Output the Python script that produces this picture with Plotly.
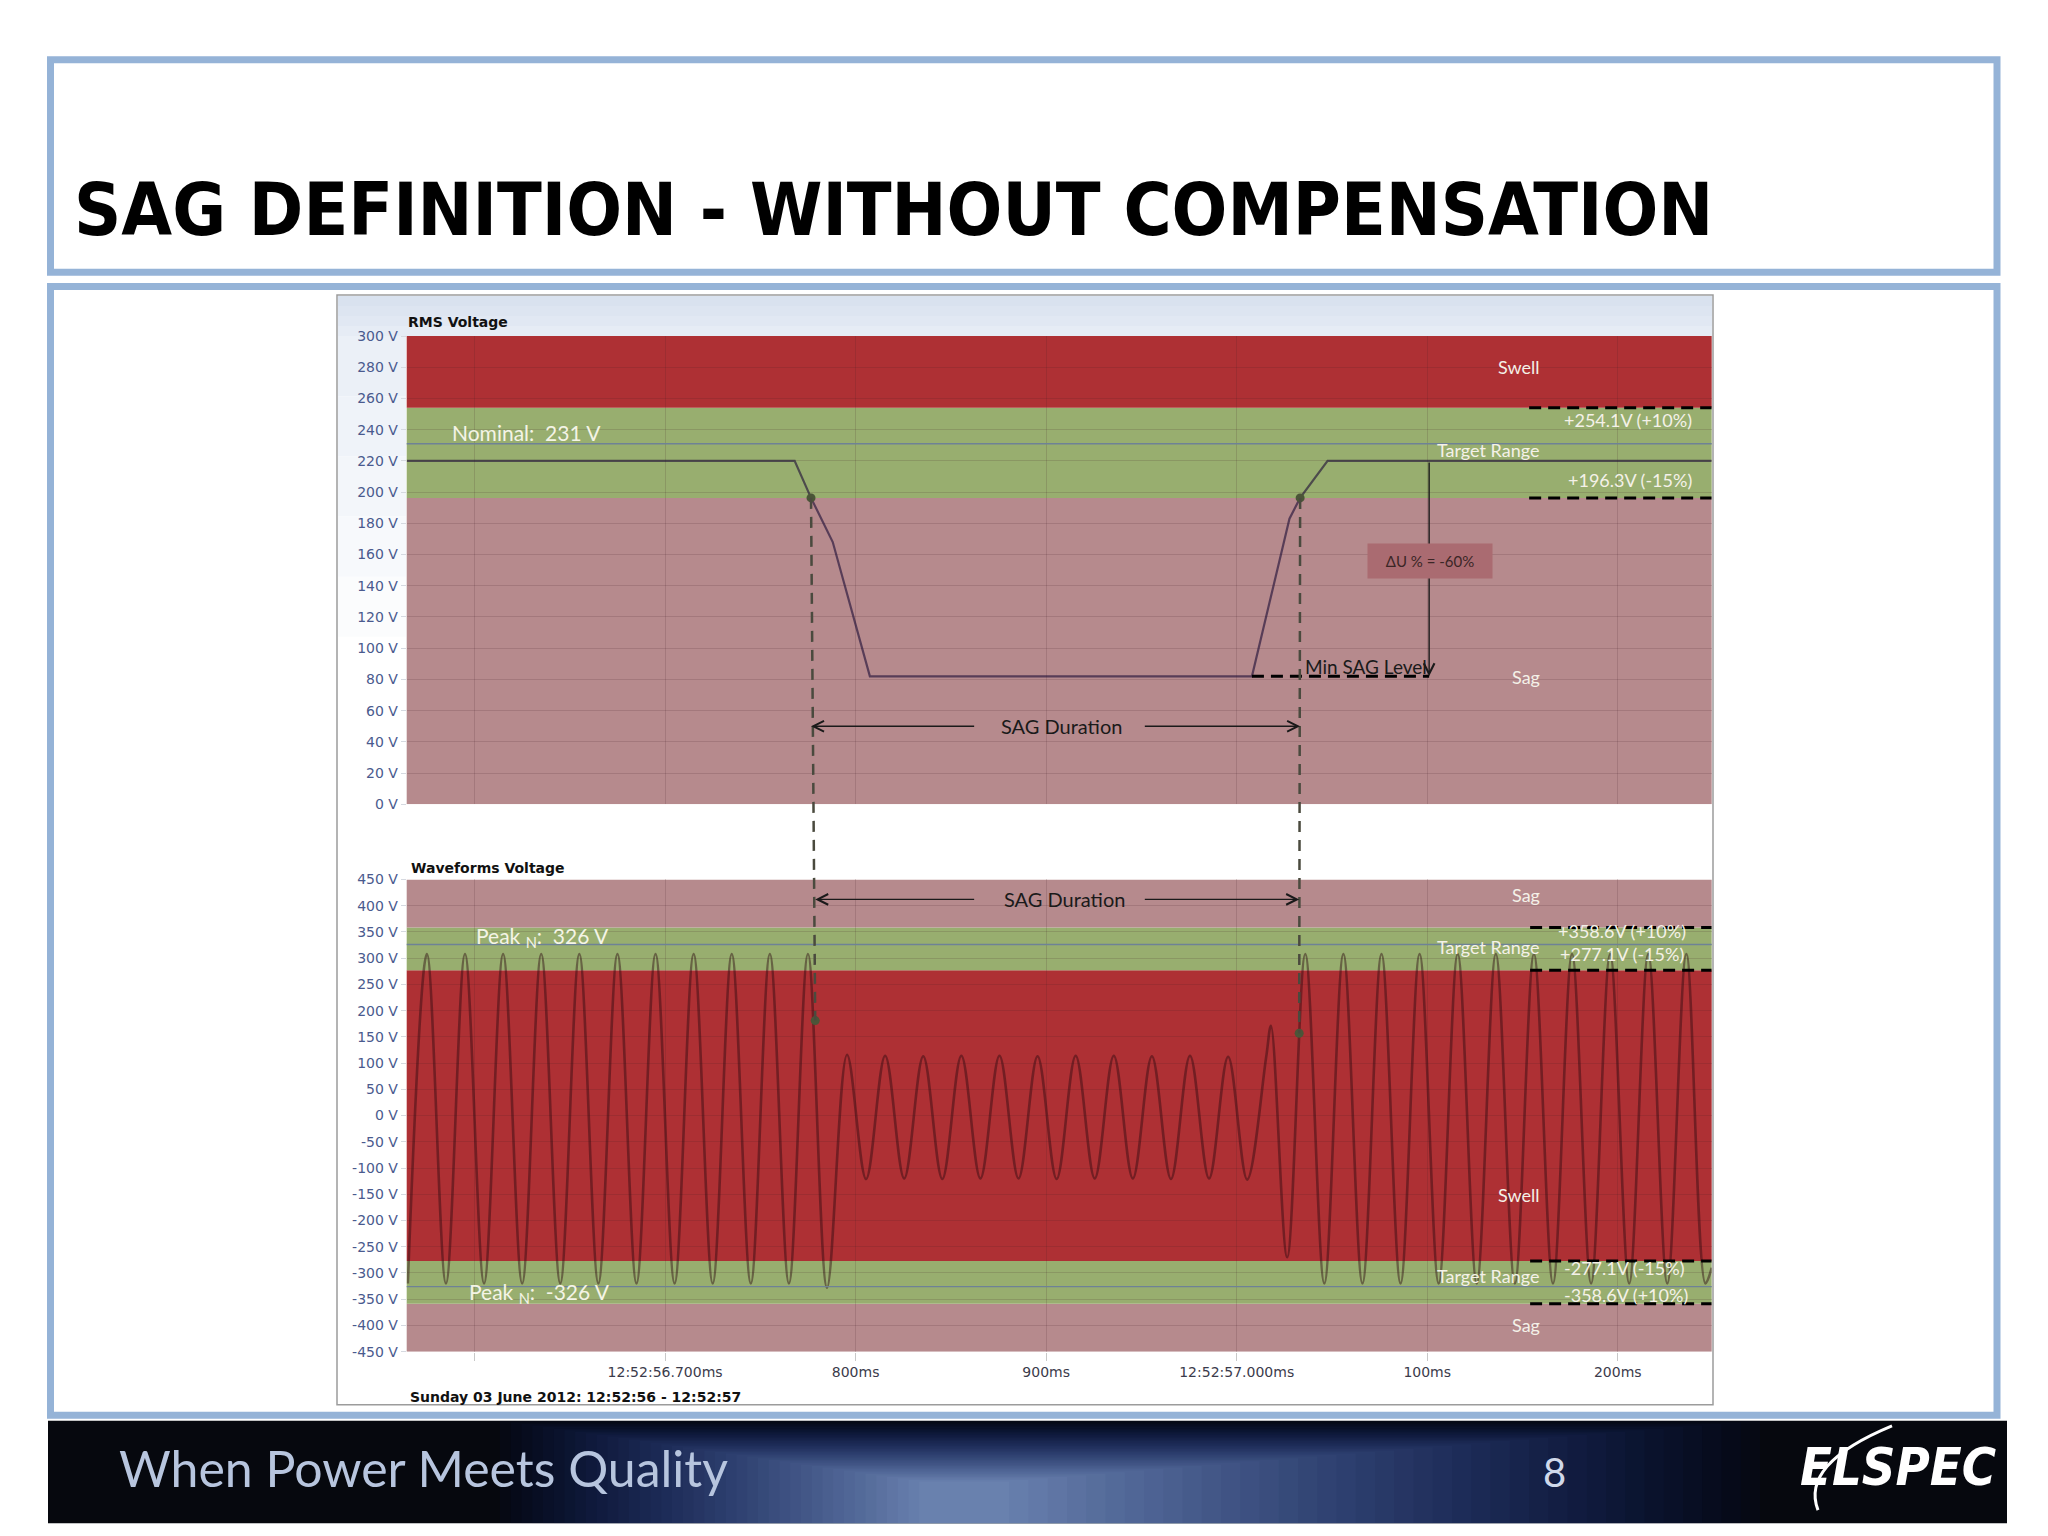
import plotly.graph_objects as go

W, H = 2048, 1536

# time axis in ms after 12:52:56
x_tickvals = [600, 700, 800, 900, 1000, 1100, 1200]
x_ticktext = ['', '12:52:56.700ms', '800ms', '900ms', '12:52:57.000ms', '100ms', '200ms']
x_range = [564.4, 1249.3]

# RMS voltage trace
rms_ms = [564.4, 768.0, 776.6, 788.0, 807.5, 1008.0, 1027.7, 1033.3, 1047.7, 1249.3]
rms_v = [220, 220, 196.3, 168, 82, 82, 183, 196.3, 220, 220]

# waveform extremes (peaks / troughs)
wave_ms = [565, 575, 585, 595, 605, 615, 625, 635, 645, 655, 665, 675, 685, 695,
           705, 715, 725, 735, 745, 755, 765, 775, 785,
           795.5, 805.5, 815.5, 825.5, 835.5, 845.5, 855.5, 865.5, 875.5, 885.5,
           895.5, 905.5, 915.5, 925.5, 935.5, 945.5, 955.5, 965.5, 975.5, 985.5,
           995.5, 1005.5, 1015.5, 1018,
           1026.5, 1036, 1046, 1056, 1066, 1076, 1086, 1096, 1106, 1116, 1126,
           1136, 1146, 1156, 1166, 1176, 1186, 1196, 1206, 1216, 1226, 1236, 1246, 1249.3]
wave_v = [-320, 308, -320, 308, -320, 308, -320, 308, -320, 308, -320, 308, -320, 308,
          -320, 308, -320, 308, -320, 308, -320, 308, -328,
          116, -121, 114, -120, 113, -121, 114, -120, 114, -120,
          113, -121, 114, -120, 114, -120, 113, -121, 114, -120,
          112, -122, 112, 171,
          -270, 308, -320, 308, -320, 308, -320, 308, -320, 308, -320,
          308, -320, 308, -320, 308, -320, 308, -320, 308, -320, 308, -320, -290]

# sag start / end markers
rms_mark_ms = [776.6, 1033.3]
rms_mark_v = [196.3, 196.3]
wave_mark_ms = [778.8, 1032.8]
wave_mark_v = [181, 157]

nominal_v = 231
peak_v = [326, -326]
min_sag_v = 82

rms_limits = [0, 196.3, 254.1, 300]
rms_zones = ['Sag', 'Target Range', 'Swell']
wave_limits = [-450, -358.6, -277.1, 277.1, 358.6, 450]
wave_zones = ['Sag', 'Target Range', 'Swell', 'Target Range', 'Sag']

rms_tickvals = [0, 20, 40, 60, 80, 100, 120, 140, 160, 180, 200, 220, 240, 260, 280, 300]
wave_tickvals = [-450, -400, -350, -300, -250, -200, -150, -100, -50, 0,
                 50, 100, 150, 200, 250, 300, 350, 400, 450]

ZONE_COL = {'Sag': '#B68A8D', 'Target Range': '#98AE6F', 'Swell': '#AE3034'}
FRAME = '#95B3D7'
LABEL = dict(family='Lato', size=18, color='#F4F1E8')


# page pixel -> paper (small correction for where the page lands in the shot)
def xs(x):
    return (x - 8) / W


def ys(y):
    return 1 - (y - 17.8) / 0.987 / H


def P(x, y):
    return xs(x), ys(y)


X_DOM = [xs(406.7), xs(1711.7)]
Y1_DOM = [ys(804), ys(337)]
Y2_DOM = [ys(1350), ys(879)]


def y1_paper(v):
    return Y1_DOM[0] + v / 300 * (Y1_DOM[1] - Y1_DOM[0])


def y2_paper(v):
    return Y2_DOM[0] + (v + 450) / 900 * (Y2_DOM[1] - Y2_DOM[0])


def rect(x0, y0, x1, y1, fill, line=None, lw=0, layer='below'):
    a, b = P(x0, y0)
    c, d = P(x1, y1)
    return dict(type='rect', xref='paper', yref='paper', x0=a, y0=b, x1=c, y1=d,
                fillcolor=fill, line=dict(color=line or 'rgba(0,0,0,0)', width=lw), layer=layer)


fig = go.Figure()

fig.add_trace(go.Scatter(x=rms_ms, y=rms_v, mode='lines', xaxis='x', yaxis='y',
                         line=dict(color='rgba(30,15,55,0.62)', width=2.2), hoverinfo='skip'))
fig.add_trace(go.Scatter(x=rms_mark_ms, y=rms_mark_v, mode='markers', xaxis='x', yaxis='y',
                         marker=dict(color='#4B5538', size=9), hoverinfo='skip'))
fig.add_trace(go.Scatter(x=wave_ms, y=wave_v, mode='lines', xaxis='x2', yaxis='y2',
                         line=dict(color='rgba(45,8,15,0.45)', width=2.6, shape='spline', smoothing=1),
                         hoverinfo='skip'))
fig.add_trace(go.Scatter(x=wave_mark_ms, y=wave_mark_v, mode='markers', xaxis='x2', yaxis='y2',
                         marker=dict(color='#4B5538', size=9), hoverinfo='skip'))

shapes = []
# slide frames
shapes.append(rect(50.5, 61.5, 1997, 273.5, 'white', FRAME, 7))
shapes.append(rect(50.5, 287.5, 1997, 1413.5, 'white', FRAME, 7))
# chart image with its pale header
shapes.append(rect(337, 296, 1713, 1403, 'white', '#9C9C9C', 1.5))
for k, c in enumerate(['#D9E2EF', '#DDE5F1', '#E1E8F3', '#E6ECF5']):
    shapes.append(rect(338, 297 + 10 * k, 1712, 307 + 10 * k, c))
for k, c in enumerate(['#EBF0F7', '#EFF3F9', '#F3F6FA', '#F7F9FC', '#FBFCFD']):
    shapes.append(rect(338, 337 + 60 * k, 406, 397 + 60 * k, c))
# footer bar with a soft blue glow
shapes.append(rect(48, 1419, 2007, 1521, '#06080E'))
n = 40
for k in range(n):
    f = k / n
    half = 600 * (1 - f) + 30
    cx = 1130 - 170 * f
    r = int(20 + 160 * f)
    g = int(40 + 170 * f)
    b = int(120 + 125 * f)
    shapes.append(rect(cx - half, 1419 + 62 * f, cx + half, 1521, f'rgba({r},{g},{b},0.055)'))
a0, b0 = P(1892, 1424)
a1, b1 = P(1800, 1462)
a2, b2 = P(1818, 1508)
shapes.append(dict(type='path', xref='paper', yref='paper',
                   path=f'M {a0},{b0} Q {a1},{b1} {a2},{b2}', line=dict(color='white', width=3)))

# voltage zones
for i, z in enumerate(rms_zones):
    shapes.append(dict(type='rect', xref='x domain', yref='y', x0=0, x1=1,
                       y0=rms_limits[i], y1=rms_limits[i + 1], fillcolor=ZONE_COL[z],
                       line=dict(width=0), layer='below'))
for i, z in enumerate(wave_zones):
    shapes.append(dict(type='rect', xref='x2 domain', yref='y2', x0=0, x1=1,
                       y0=wave_limits[i], y1=wave_limits[i + 1], fillcolor=ZONE_COL[z],
                       line=dict(width=0), layer='below'))

# nominal and peak reference lines
shapes.append(dict(type='line', xref='x domain', yref='y', x0=0, x1=1, y0=nominal_v, y1=nominal_v,
                   line=dict(color='#6E8296', width=1.4)))
for pv in peak_v:
    shapes.append(dict(type='line', xref='x2 domain', yref='y2', x0=0, x1=1, y0=pv, y1=pv,
                       line=dict(color='#6E8296', width=1.4)))

# limit dashes on the right
DASH = dict(color='black', width=3, dash='12px,7px')
for lv in rms_limits[1:3]:
    shapes.append(dict(type='line', xref='x', yref='y', x0=1153.5, x1=x_range[1], y0=lv, y1=lv, line=DASH))
for lv in wave_limits[1:5]:
    shapes.append(dict(type='line', xref='x2', yref='y2', x0=1154, x1=x_range[1], y0=lv, y1=lv, line=DASH))
shapes.append(dict(type='line', xref='x', yref='y', x0=1008, x1=1101, y0=min_sag_v, y1=min_sag_v, line=DASH))

# sag start / end dashed connectors
for i in range(2):
    shapes.append(dict(type='line', xref='x', yref='paper',
                       x0=rms_mark_ms[i], y0=y1_paper(rms_mark_v[i]),
                       x1=wave_mark_ms[i], y1=y2_paper(wave_mark_v[i]),
                       line=dict(color='#4A4A3E', width=2.5, dash='11px,8px')))

ann = []


def txt(x, y, s, xref='x', yref='y', font=LABEL, xanchor='center', **kw):
    ann.append(dict(x=x, y=y, text=s, xref=xref, yref=yref, showarrow=False,
                    font=font, xanchor=xanchor, yanchor='middle', **kw))


def arrow(x, y, ax, ay, xref='x', yref='y'):
    ann.append(dict(x=x, y=y, ax=ax, ay=ay, xref=xref, yref=yref, axref=xref, ayref=yref,
                    text='', showarrow=True, arrowhead=5, arrowsize=1.5, arrowwidth=1.4,
                    arrowcolor='#1A1A1A'))


# slide title and footer
px, py = P(72, 211)
txt(px, py, '<b>SAG DEFINITION - WITHOUT COMPENSATION</b>', 'paper', 'paper',
    dict(family='DejaVu Sans Condensed', size=73, color='black'), 'left')
px, py = P(117, 1466)
txt(px, py, 'When Power Meets Quality', 'paper', 'paper', dict(family='Lato', size=50, color='#B7C5DE'), 'left')
px, py = P(1554, 1470)
txt(px, py, '8', 'paper', 'paper', dict(family='Lato', size=40, color='#D0D9EA'))
px, py = P(1898, 1465)
txt(px, py, '<b><i>ELSPEC</i></b>', 'paper', 'paper',
    dict(family='DejaVu Sans Condensed', size=52, color='white'))

# chart captions
CAP = dict(family='DejaVu Sans', size=14, color='#111')
px, py = P(406, 323)
txt(px, py, '<b>RMS Voltage</b>', 'paper', 'paper', CAP, 'left')
px, py = P(409, 868)
txt(px, py, '<b>Waveforms Voltage</b>', 'paper', 'paper', CAP, 'left')
px, py = P(408, 1395)
txt(px, py, '<b>Sunday 03 June 2012: 12:52:56 - 12:52:57</b>', 'paper', 'paper', CAP, 'left')

# top chart labels
BIG = dict(family='Lato', size=21, color='#F4F4E6')
DARK = dict(family='Lato', size=20, color='#1A1A1A')
txt(587, 238, f'Nominal:  {nominal_v} V', font=BIG, xanchor='left')
txt(1148, 280, 'Swell')
txt(1240, 245.9, '+254.1V (+10%)', xanchor='right')
txt(1132, 226.7, 'Target Range')
txt(1240, 207.7, '+196.3V (-15%)', xanchor='right')
txt(1152, 81.6, 'Sag')
arrow(1101, min_sag_v, 1101, 220)
txt(1101.5, 156, '\u0394U % = -60%', font=dict(family='Lato', size=15, color='#3B2626'),
    bgcolor='#AA6B71', width=122, height=32)
txt(1035, 88, 'Min SAG Level', font=dict(family='Lato', size=19, color='#1A1A1A'), xanchor='left')
txt(908, 50, 'SAG Duration', font=DARK)
arrow(rms_mark_ms[0], 50, 863, 50)
arrow(rms_mark_ms[1], 50, 951, 50)

# waveform chart labels
txt(599.6, 341, f'Peak <sub>N</sub>:  {peak_v[0]} V', 'x2', 'y2', BIG, 'left')
txt(596, -339, f'Peak <sub>N</sub>:  {peak_v[1]} V', 'x2', 'y2', BIG, 'left')
txt(1152, 420, 'Sag', 'x2', 'y2')
txt(1237, 351.5, '+358.6V (+10%)', 'x2', 'y2', xanchor='right')
txt(1132, 322, 'Target Range', 'x2', 'y2')
txt(1236, 307, '+277.1V (-15%)', 'x2', 'y2', xanchor='right')
txt(1148, -152, 'Swell', 'x2', 'y2')
txt(1236, -289.7, '-277.1V (-15%)', 'x2', 'y2', xanchor='right')
txt(1132, -306.5, 'Target Range', 'x2', 'y2')
txt(1238, -342.8, '-358.6V (+10%)', 'x2', 'y2', xanchor='right')
txt(1152, -399, 'Sag', 'x2', 'y2')
txt(909.6, 412, 'SAG Duration', 'x2', 'y2', DARK)
arrow(wave_mark_ms[0], 412, 863, 412, 'x2', 'y2')
arrow(wave_mark_ms[1], 412, 951, 412, 'x2', 'y2')

GRID = 'rgba(70,30,40,0.16)'
YT = dict(family='DejaVu Sans', size=14, color='#4A5A8E')

fig.update_layout(
    width=W, height=H, margin=dict(l=0, r=0, t=0, b=0),
    paper_bgcolor='white', plot_bgcolor='rgba(0,0,0,0)', showlegend=False,
    shapes=shapes, annotations=ann,
    xaxis=dict(domain=X_DOM, range=x_range, anchor='y', tickvals=x_tickvals,
               showticklabels=False, ticks='', showgrid=True, gridcolor=GRID,
               zeroline=False, showline=False),
    yaxis=dict(domain=Y1_DOM, range=[0, 300], anchor='x', tickvals=rms_tickvals,
               ticktext=[f'{v} V' for v in rms_tickvals], tickfont=YT,
               ticks='outside', ticklen=5, tickcolor='#D5D9E0',
               showgrid=True, gridcolor=GRID, zeroline=False, showline=False),
    xaxis2=dict(domain=X_DOM, range=x_range, anchor='y2', matches='x', tickvals=x_tickvals,
                ticktext=x_ticktext, tickfont=dict(family='DejaVu Sans', size=14, color='#3B3B4B'),
                ticks='outside', ticklen=8, tickcolor='#C8C8C8',
                showgrid=True, gridcolor=GRID, zeroline=False, showline=False),
    yaxis2=dict(domain=Y2_DOM, range=[-450, 450], anchor='x2', tickvals=wave_tickvals,
                ticktext=[f'{v} V' for v in wave_tickvals], tickfont=YT,
                ticks='outside', ticklen=5, tickcolor='#D5D9E0',
                showgrid=True, gridcolor=GRID, zeroline=False, showline=False),
)

fig.write_html('out.html')
